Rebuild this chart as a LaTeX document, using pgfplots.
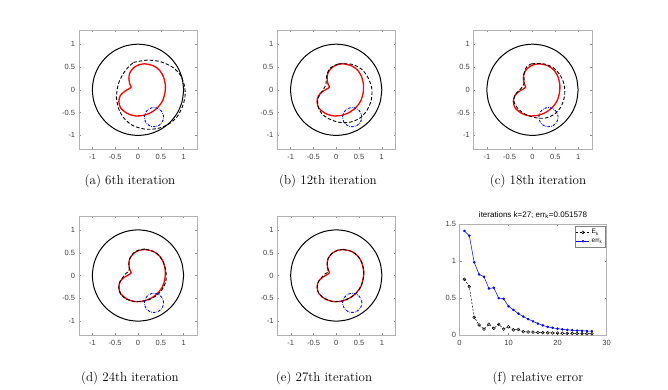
\documentclass[border=0pt]{standalone}
\usepackage{fontspec}
\setsansfont{Liberation Sans}
\usepackage{pgfplots}
\usepackage{pgfplotstable}
\pgfplotsset{compat=1.18}

\pgfplotstableread{
x y
1 0
0.9659 0.2588
0.8660 0.5
0.7071 0.7071
0.5 0.8660
0.2588 0.9659
0 1
-0.2588 0.9659
-0.5 0.8660
-0.7071 0.7071
-0.8660 0.5
-0.9659 0.2588
-1 0
-0.9659 -0.2588
-0.8660 -0.5
-0.7071 -0.7071
-0.5 -0.8660
-0.2588 -0.9659
0 -1
0.2588 -0.9659
0.5 -0.8660
0.7071 -0.7071
0.8660 -0.5
0.9659 -0.2588
1 0
}\unitcircle

\pgfplotstableread{
x y
0.56 -0.6
0.5528 -0.5457
0.5319 -0.495
0.4985 -0.4515
0.455 -0.4181
0.4043 -0.3972
0.35 -0.39
0.2957 -0.3972
0.245 -0.4181
0.2015 -0.4515
0.1681 -0.495
0.1472 -0.5457
0.14 -0.6
0.1472 -0.6543
0.1681 -0.705
0.2015 -0.7485
0.245 -0.7819
0.2957 -0.8028
0.35 -0.81
0.4043 -0.8028
0.455 -0.7819
0.4985 -0.7485
0.5319 -0.705
0.5528 -0.6543
0.56 -0.6
}\bluecirc

\pgfplotstableread{
x y
0.15 0.57
0.02 0.55
-0.10 0.48
-0.18 0.37
-0.20 0.25
-0.18 0.13
-0.15 0.06
-0.20 0.02
-0.30 -0.04
-0.39 -0.13
-0.42 -0.26
-0.38 -0.40
-0.25 -0.51
-0.08 -0.57
0.12 -0.56
0.30 -0.49
0.44 -0.38
0.54 -0.24
0.59 -0.07
0.60 0.10
0.56 0.28
0.47 0.43
0.33 0.53
0.15 0.57
}\redshape

\pgfplotsset{
  shapeax/.style={
    scale only axis, width=118.6pt, height=118.6pt,
    xmin=-1.3, xmax=1.3, ymin=-1.3, ymax=1.3,
    xtick={-1,-0.5,0,0.5,1}, ytick={-1,-0.5,0,0.5,1},
    anchor=center,
    tick align=inside, major tick length=2pt,
    axis line style={draw=black!30, line width=0.4pt},
    tick style={draw=black!45, line width=0.3pt},
    ticklabel style={font=\sffamily\fontsize{7.5}{9}\selectfont, text=black!75},
    xticklabel style={yshift=-2pt},
    /pgf/number format/assume math mode=true,
  },
  circ/.style={black, line width=1pt, smooth},
  truec/.style={red, line width=1.3pt, smooth},
  recon/.style={black, line width=0.9pt, smooth, dash pattern=on 3.5pt off 2pt},
  bluec/.style={blue, line width=0.9pt, smooth, dash pattern=on 2.5pt off 1.2pt on 0.6pt off 1.2pt},
}

\begin{document}
\begin{tikzpicture}
\path[use as bounding box] (0,0) rectangle (668pt,389pt);

% (a)
\begin{axis}[shapeax, at={(138pt,299.2pt)}]
\addplot[circ] table {\unitcircle};
\addplot[truec] table {\redshape};
\addplot[recon] coordinates {(-0.10,0.60) (0.19,0.65) (0.48,0.62) (0.75,0.50) (0.93,0.32) (1.02,0.08) (1.03,-0.15) (0.97,-0.38) (0.85,-0.60) (0.66,-0.76) (0.42,-0.85) (0.14,-0.86) (-0.12,-0.78) (-0.31,-0.62) (-0.43,-0.40) (-0.47,-0.15) (-0.43,0.13) (-0.32,0.36) (-0.21,0.50) (-0.10,0.60)};
\addplot[bluec] table {\bluecirc};
\end{axis}

% (b)
\begin{axis}[shapeax, at={(336.2pt,299.2pt)}]
\addplot[circ] table {\unitcircle};
\addplot[truec] table {\redshape};
\addplot[recon] coordinates {(0.05,0.57) (0.34,0.56) (0.56,0.45) (0.70,0.26) (0.78,0.03) (0.77,-0.22) (0.68,-0.44) (0.52,-0.62) (0.30,-0.71) (0.05,-0.71) (-0.17,-0.63) (-0.32,-0.52) (-0.40,-0.36) (-0.40,-0.19) (-0.32,-0.05) (-0.23,0.10) (-0.21,0.29) (-0.14,0.47) (0.05,0.57)};
\addplot[bluec] table {\bluecirc};
\end{axis}

% (c)
\begin{axis}[shapeax, at={(532.5pt,299.2pt)}]
\addplot[circ] table {\unitcircle};
\addplot[truec] table {\redshape};
\addplot[recon] coordinates {(-0.02,0.57) (0.24,0.57) (0.46,0.48) (0.62,0.30) (0.70,0.08) (0.70,-0.15) (0.62,-0.38) (0.47,-0.54) (0.28,-0.62) (0.06,-0.61) (-0.17,-0.53) (-0.33,-0.40) (-0.41,-0.24) (-0.37,-0.09) (-0.26,0.02) (-0.18,0.15) (-0.19,0.33) (-0.13,0.50) (-0.02,0.57)};
\addplot[bluec] table {\bluecirc};
\end{axis}

% (d)
\begin{axis}[shapeax, at={(138pt,113.5pt)}]
\addplot[circ] table {\unitcircle};
\addplot[truec] table {\redshape};
\addplot[recon] coordinates {(0.15,0.58) (0.02,0.56) (-0.10,0.49) (-0.18,0.37) (-0.20,0.25) (-0.19,0.14) (-0.22,0.08) (-0.28,0.03) (-0.34,-0.05) (-0.40,-0.14) (-0.42,-0.27) (-0.38,-0.41) (-0.25,-0.52) (-0.08,-0.57) (0.12,-0.56) (0.31,-0.50) (0.46,-0.39) (0.57,-0.24) (0.62,-0.07) (0.61,0.10) (0.56,0.28) (0.47,0.43) (0.33,0.53) (0.15,0.58)};
\addplot[bluec] table {\bluecirc};
\end{axis}

% (e)
\begin{axis}[shapeax, at={(336.3pt,113.5pt)}]
\addplot[circ] table {\unitcircle};
\addplot[truec] table {\redshape};
\addplot[recon] coordinates {(0.15,0.57) (0.02,0.55) (-0.10,0.48) (-0.18,0.37) (-0.20,0.25) (-0.18,0.13) (-0.18,0.07) (-0.24,0.04) (-0.31,-0.03) (-0.39,-0.13) (-0.42,-0.26) (-0.38,-0.40) (-0.25,-0.51) (-0.08,-0.57) (0.12,-0.56) (0.30,-0.49) (0.44,-0.38) (0.54,-0.24) (0.59,-0.07) (0.60,0.10) (0.56,0.28) (0.47,0.43) (0.33,0.53) (0.15,0.57)};
\addplot[bluec] table {\bluecirc};
\end{axis}

% (f)
\begin{axis}[scale only axis, width=147pt, height=110.7pt,
  at={(459.5pt,54pt)}, anchor=south west,
  xmin=0, xmax=30, ymin=0, ymax=1.5,
  xtick={0,10,20,30}, ytick={0,0.5,1,1.5},
  tick align=inside, major tick length=2pt,
  axis line style={draw=black!30, line width=0.4pt},
  tick style={draw=black!45, line width=0.3pt},
  ticklabel style={font=\sffamily\fontsize{7.5}{9}\selectfont, text=black!75},
  xticklabel style={yshift=-2pt},
  /pgf/number format/assume math mode=true,
  title={iterations k=27; err\textsubscript{k}=0.051578},
  title style={font=\sffamily\fontsize{8}{9}\selectfont, yshift=-4pt},
  legend style={at={(0.995,0.985)}, anchor=north east, font=\sffamily\fontsize{6.5}{7.5}\selectfont,
    draw=black!50, line width=0.3pt, inner sep=1.2pt, row sep=-0.5pt, cells={anchor=west}},
  legend image code/.code={\draw[#1] (0pt,0pt) -- (13pt,0pt); \draw[#1, only marks] plot coordinates {(6.5pt,0pt)};},
]
\addplot[black, line width=0.5pt, dash pattern=on 2pt off 1.5pt, mark=o, mark size=1.4pt, mark options={solid}] coordinates {
(1,0.755) (2,0.655) (3,0.24) (4,0.135) (5,0.08) (6,0.145) (7,0.09) (8,0.145) (9,0.08) (10,0.11) (11,0.07) (12,0.075) (13,0.045) (14,0.042) (15,0.038) (16,0.035) (17,0.032) (18,0.03) (19,0.028) (20,0.026) (21,0.024) (22,0.022) (23,0.021) (24,0.02) (25,0.019) (26,0.018) (27,0.017)};
\addplot[blue, line width=0.5pt, mark=*, mark size=1pt] coordinates {
(1,1.41) (2,1.345) (3,0.985) (4,0.82) (5,0.79) (6,0.63) (7,0.64) (8,0.50) (9,0.49) (10,0.39) (11,0.34) (12,0.29) (13,0.25) (14,0.215) (15,0.185) (16,0.155) (17,0.13) (18,0.11) (19,0.097) (20,0.086) (21,0.077) (22,0.07) (23,0.065) (24,0.06) (25,0.057) (26,0.054) (27,0.0516)};
\legend{E\textsubscript{k}, err\textsubscript{k}}
\end{axis}

\node[font=\fontsize{13}{15}\selectfont] at (130pt,208pt) {(a) 6th iteration};
\node[font=\fontsize{13}{15}\selectfont] at (328pt,208pt) {(b) 12th iteration};
\node[font=\fontsize{13}{15}\selectfont] at (538pt,208pt) {(c) 18th iteration};
\node[font=\fontsize{13}{15}\selectfont] at (130pt,11pt) {(d) 24th iteration};
\node[font=\fontsize{13}{15}\selectfont] at (324pt,11pt) {(e) 27th iteration};
\node[font=\fontsize{13}{15}\selectfont] at (538pt,11pt) {(f) relative error};
\end{tikzpicture}
\end{document}
